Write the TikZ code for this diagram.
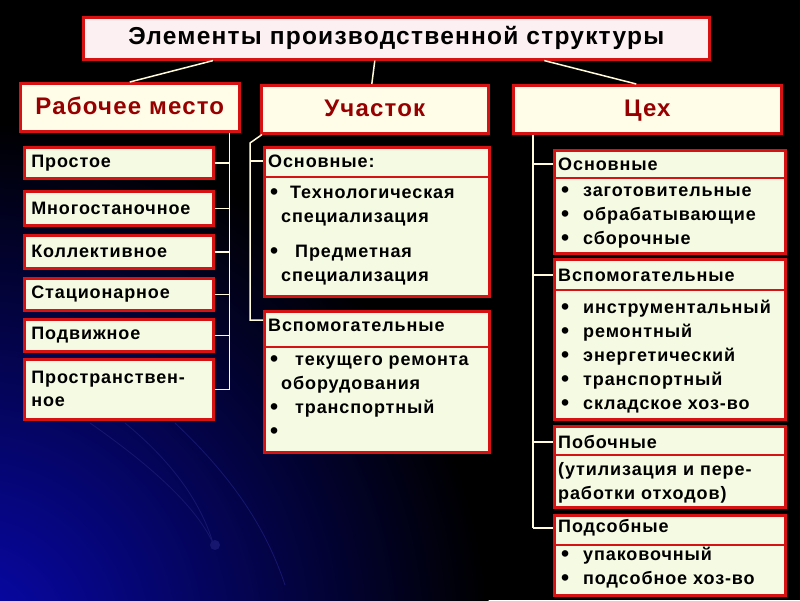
\documentclass[tikz,border=0pt]{standalone}
\usepackage{fontspec}
\setmainfont{Liberation Sans}[LetterSpace=5]
\usetikzlibrary{positioning}
\definecolor{boxred}{RGB}{215,18,18}
\definecolor{titlefill}{RGB}{253,240,242}
\definecolor{headfill}{RGB}{255,253,232}
\definecolor{itemfill}{RGB}{245,250,226}
\definecolor{headtext}{RGB}{150,0,0}
\definecolor{linkcol}{RGB}{255,250,215}
\definecolor{glow}{RGB}{8,8,175}
\definecolor{arccol}{RGB}{22,22,110}

\tikzset{
  box/.style={draw=boxred, line width=2.6pt, anchor=north west, inner sep=0pt},
  titlebox/.style={box, fill=titlefill, font=\bfseries\fontsize{24.5}{30}\selectfont},
  headbox/.style={box, fill=headfill, text=headtext, font=\bfseries\fontsize{24}{28}\selectfont},
  itembox/.style={box, fill=itemfill, inner xsep=7pt, align=left,
    font=\bfseries\fontsize{18}{23}\selectfont},
  listbox/.style={box, fill=itemfill},
  hdtext/.style={anchor=west, inner sep=0pt, font=\bfseries\fontsize{18}{24}\selectfont},
  listtext/.style={anchor=north west, inner sep=0pt, align=left,
    font=\bfseries\fontsize{18}{24}\selectfont},
  divline/.style={draw=boxred, line width=1.6pt},
  link/.style={draw=linkcol, line width=1.5pt}
}
\newcommand{\blt}[1]{\makebox[#1][l]{\raisebox{-1pt}{\fontsize{23}{24}\selectfont •}}}

\begin{document}
\begin{tikzpicture}[x=1pt, y=-1pt]
% background
\useasboundingbox (0,0) rectangle (800,600);
\fill[black] (0,0) rectangle (800,600);
\begin{scope}
\clip (0,0) rectangle (800,600);
\shade[inner color=glow, outer color=black] (-30,640) circle [radius=520pt];
\end{scope}
\draw[arccol, line width=0.8pt] (90,423) .. controls (150,465) and (195,505) .. (213,543);
\draw[arccol, line width=0.8pt] (125,423) .. controls (170,460) and (200,500) .. (213,543);
\draw[arccol, line width=0.8pt] (175,423) .. controls (230,475) and (265,525) .. (285,585);
\fill[arccol] (215,545) circle [radius=5pt];

% top level
\node[titlebox, minimum width=626pt, minimum height=42pt] (title) at (82,16) {Элементы производственной структуры};
\node[headbox, minimum width=219pt, minimum height=48pt, text depth=3pt] (rabm) at (19,82) {Рабочее место};
\node[headbox, minimum width=227pt, minimum height=48pt, text depth=3pt] (uch) at (260,84) {Участок};
\node[headbox, minimum width=268pt, minimum height=48pt, text depth=3pt] (tsekh) at (512,84) {Цех};

% workplace kinds
\node[itembox, text width=175pt, minimum height=31pt] (prost) at (23,146) {Простое};
\node[itembox, text width=175pt, minimum height=34pt] (mnogo) at (23,190) {Многостаночное};
\node[itembox, text width=175pt, minimum height=33pt] (koll) at (23,234) {Коллективное};
\node[itembox, text width=175pt, minimum height=32pt] (stat) at (23,277) {Стационарное};
\node[itembox, text width=175pt, minimum height=32pt] (podv) at (23,318) {Подвижное};
\node[itembox, text width=175pt, minimum height=60pt] (prostr) at (23,358) {Пространствен-\\ное};

% section kinds
\node[listbox, minimum width=225pt, minimum height=149pt] (uchmain) at (263,146) {};
\node[hdtext] (uchmainhd) at (268,161) {Основные:};
\node[listtext] (uchmainls) at (270,186) {\blt{20pt}Технологическая\\\hspace*{11pt}специализация\\[11pt]
  \blt{25pt}Предметная\\\hspace*{11pt}специализация};
\node[listbox, minimum width=225pt, minimum height=141pt] (uchaux) at (263,310) {};
\node[hdtext] (uchauxhd) at (268,325) {Вспомогательные};
\node[listtext] (uchauxls) at (270,355) {\blt{25pt}текущего ремонта\\\hspace*{11pt}оборудования\\
  \blt{25pt}транспортный\\\blt{25pt}};

% shop kinds
\node[listbox, minimum width=231pt, minimum height=103pt] (tsmain) at (553,149) {};
\node[hdtext] (tsmainhd) at (558,164) {Основные};
\node[listtext] (tsmainls) at (561,186) {\blt{22pt}заготовительные\\\blt{22pt}обрабатывающие\\\blt{22pt}сборочные};
\node[listbox, minimum width=231pt, minimum height=160pt] (tsaux) at (553,258) {};
\node[hdtext] (tsauxhd) at (558,275) {Вспомогательные};
\node[listtext] (tsauxls) at (561,300) {\blt{22pt}инструментальный\\\blt{22pt}ремонтный\\\blt{22pt}энергетический\\
  \blt{22pt}транспортный\\\blt{22pt}складское хоз-во};
\node[listbox, minimum width=231pt, minimum height=81pt] (tsside) at (553,425) {};
\node[hdtext] (tssidehd) at (558,442) {Побочные};
\node[listtext] (tssidels) at (558,462) {(утилизация и пере-\\работки отходов)};
\node[listbox, minimum width=231pt, minimum height=80pt] (tsaid) at (553,514) {};
\node[hdtext] (tsaidhd) at (558,528) {Подсобные};
\node[listtext] (tsaidls) at (561,547) {\blt{22pt}упаковочный\\\blt{22pt}подсобное хоз-во};

% dividers
\draw[divline] (uchmain.west |- 0,177) -- (uchmain.east |- 0,177);
\draw[divline] (uchaux.west |- 0,347) -- (uchaux.east |- 0,347);
\draw[divline] (tsmain.west |- 0,178) -- (tsmain.east |- 0,178);
\draw[divline] (tsaux.west |- 0,290) -- (tsaux.east |- 0,290);
\draw[divline] (tsside.west |- 0,455) -- (tsside.east |- 0,455);
\draw[divline] (tsaid.west |- 0,545) -- (tsaid.east |- 0,545);

% links from the title
\draw[link] ([xshift=131pt]title.south west) -- (rabm.north);
\draw[link] (uch.north |- title.south) -- ([xshift=-3pt]uch.north);
\draw[link] ([xshift=148pt]title.south) -- ([xshift=-11pt]tsekh.north);

% left bracket
\coordinate (ltop) at ([xshift=-11pt]rabm.south east);
\draw[link] (ltop) -- (ltop |- prostr.east);
\draw[link] (prost.east) -- (prost.east -| ltop);
\draw[link] (mnogo.east) -- (mnogo.east -| ltop);
\draw[link] (koll.east) -- (koll.east -| ltop);
\draw[link] (stat.east) -- (stat.east -| ltop);
\draw[link] (podv.east) -- (podv.east -| ltop);
\draw[link] (prostr.east) -- (prostr.east -| ltop);

% middle bracket
\coordinate (mtop) at (250,143);
\coordinate (mbot) at (250,320);
\draw[link] ([xshift=2pt]uch.south west) -- (mtop) -- (mbot) -- (mbot -| uchaux.west);
\draw[link] (mtop |- uchmainhd) -- (uchmain.west |- uchmainhd);

% right bracket
\coordinate (rtop) at ([xshift=21pt]tsekh.south west);
\draw[link] (rtop) -- (rtop |- tsaidhd);
\draw[link] (rtop |- tsmainhd) -- (tsmain.west |- tsmainhd);
\draw[link] (rtop |- tsauxhd) -- (tsaux.west |- tsauxhd);
\draw[link] (rtop |- tssidehd) -- (tsside.west |- tssidehd);
\draw[link] (rtop |- tsaidhd) -- (tsaid.west |- tsaidhd);
\end{tikzpicture}
\end{document}
